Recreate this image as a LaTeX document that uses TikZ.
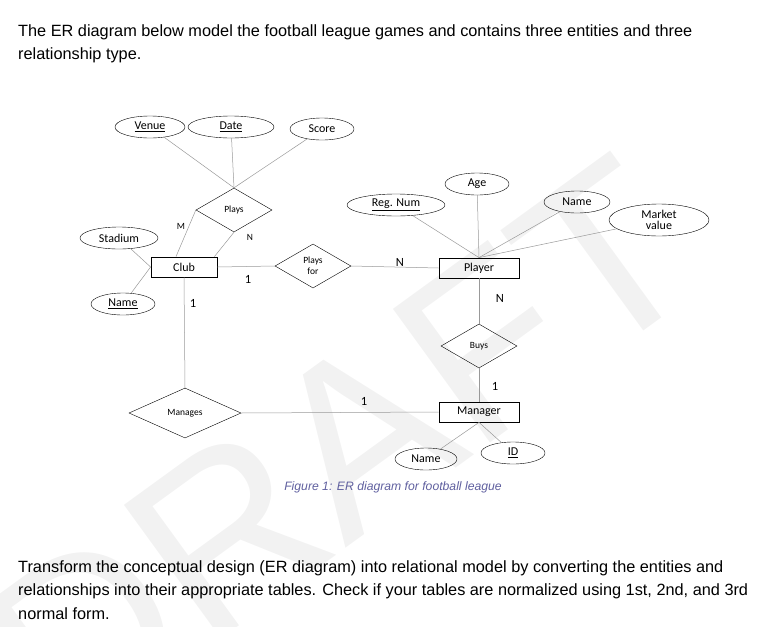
\documentclass[tikz,border=0pt]{standalone}
\usepackage{fontspec}
\setmainfont{Liberation Sans}
\newfontfamily\calfnt{Carlito}
\usetikzlibrary{shapes.geometric}
\begin{document}
\begin{tikzpicture}[x=1pt,y=-1pt,
 ent/.style={draw,thick,minimum width=#1,minimum height=20pt,inner sep=0pt,font=\calfnt\fontsize{12}{13}\selectfont},
 att/.style={draw,ellipse,minimum width=#1,minimum height=22pt,inner sep=0pt,font=\calfnt\fontsize{12}{13}\selectfont},
 rel/.style={draw,diamond,minimum width=#1,inner sep=0pt,font=\calfnt\fontsize{9.5}{11}\selectfont,align=center},
 ln/.style={draw=gray!80,line width=0.5pt},
 card/.style={font=\calfnt\fontsize{12.5}{13}\selectfont},
 body/.style={anchor=west,inner sep=0pt,font=\fontsize{16.3}{19}\selectfont}]
\useasboundingbox (0,0) rectangle (772,627);
\node[rotate=36,text=gray!10,font=\fontsize{240}{240}\selectfont] (wm) at (340,450) {DRAFT};
\node[body] (t1) at (18,32) {The ER diagram below model the football league games and contains three entities and three};
\node[body] (t2) at (18,55) {relationship type.};
\node[body] (b1) at (18,568) {Transform the conceptual design (ER diagram) into relational model by converting the entities and};
\node[body] (b2) at (18,591) {relationships into their appropriate tables. Check if your tables are normalized using 1st, 2nd, and 3rd};
\node[body] (b3) at (18,614) {normal form.};
% entities
\node[ent=66pt] (club) at (184,267) {Club};
\node[ent=80pt] (player) at (479,268) {Player};
\node[ent=80pt] (manager) at (479,412) {Manager};
% relationships
\node[rel=76pt,minimum height=44pt] (plays) at (234,210) {Plays};
\node[rel=76pt,minimum height=44pt] (playsfor) at (313,266) {Plays\\for};
\node[rel=76pt,minimum height=44pt] (buys) at (479,346) {Buys};
\node[rel=112pt,minimum height=50pt] (manages) at (185,413) {Manages};
% attributes
\node[att=70pt] (venue) at (150,127) {\underline{Venue}};
\node[att=86pt] (date) at (231,127) {\underline{Date}};
\node[att=64pt] (score) at (322,129) {Score};
\node[att=78pt] (stadium) at (119,238) {Stadium};
\node[att=64pt] (cname) at (123,304) {\underline{Name}};
\node[att=98pt] (reg) at (396,205) {\underline{Reg. Num}};
\node[att=64pt] (age) at (477,184) {Age};
\node[att=66pt] (pname) at (577,202) {Name};
\node[att=100pt,minimum height=32pt,align=center] (mv) at (659,220) {Market\\[-2pt]value};
\node[att=62pt] (mname) at (426,459) {Name};
\node[att=64pt] (id) at (513,453) {\underline{ID}};
% connectors
\draw[ln] (venue) -- (plays.north);
\draw[ln] (date) -- (plays.north);
\draw[ln] (score) -- (plays.north);
\coordinate (cl1) at ([xshift=-8pt]club.north);
\coordinate (cl2) at ([xshift=-3pt]club.north east);
\draw[ln] (plays.west) -- (cl1);
\draw[ln] (plays.south) -- (cl2);
\draw[ln] (stadium) -- (club.west);
\draw[ln] (cname) -- (club.west);
\draw[ln] (club.east) -- (playsfor.west);
\draw[ln] (playsfor.east) -- (player.west);
\draw[ln] (reg) -- (player.north);
\draw[ln] (age) -- (player.north);
\draw[ln] (pname) -- (player.north);
\draw[ln] (mv) -- (player.north);
\draw[ln] (player.south) -- (buys.north);
\draw[ln] (buys.south) -- (manager.north);
\draw[ln] (club.south) -- (manages.north);
\draw[ln] (manages.east) -- (manager.west);
\draw[ln] (manager.south) -- (mname);
\draw[ln] (manager.south) -- (id);
% cardinalities
\node[card,font=\calfnt\fontsize{9.5}{10}\selectfont] (cM) at (181,226) {M};
\node[card,font=\calfnt\fontsize{9.5}{10}\selectfont] (cN) at (250,237) {N};
\node[card] (c1a) at (248,279) {1};
\node[card] (cN2) at (400,262) {N};
\node[card] (cN3) at (500,298) {N};
\node[card] (c1b) at (495,386) {1};
\node[card] (c1c) at (364,401) {1};
\node[card] (c1d) at (193,303) {1};
\node[font=\fontsize{12.2}{14}\selectfont\itshape,text=blue!25!gray] (cap) at (393,487) {Figure 1: ER diagram for football league};
\end{tikzpicture}
\end{document}
